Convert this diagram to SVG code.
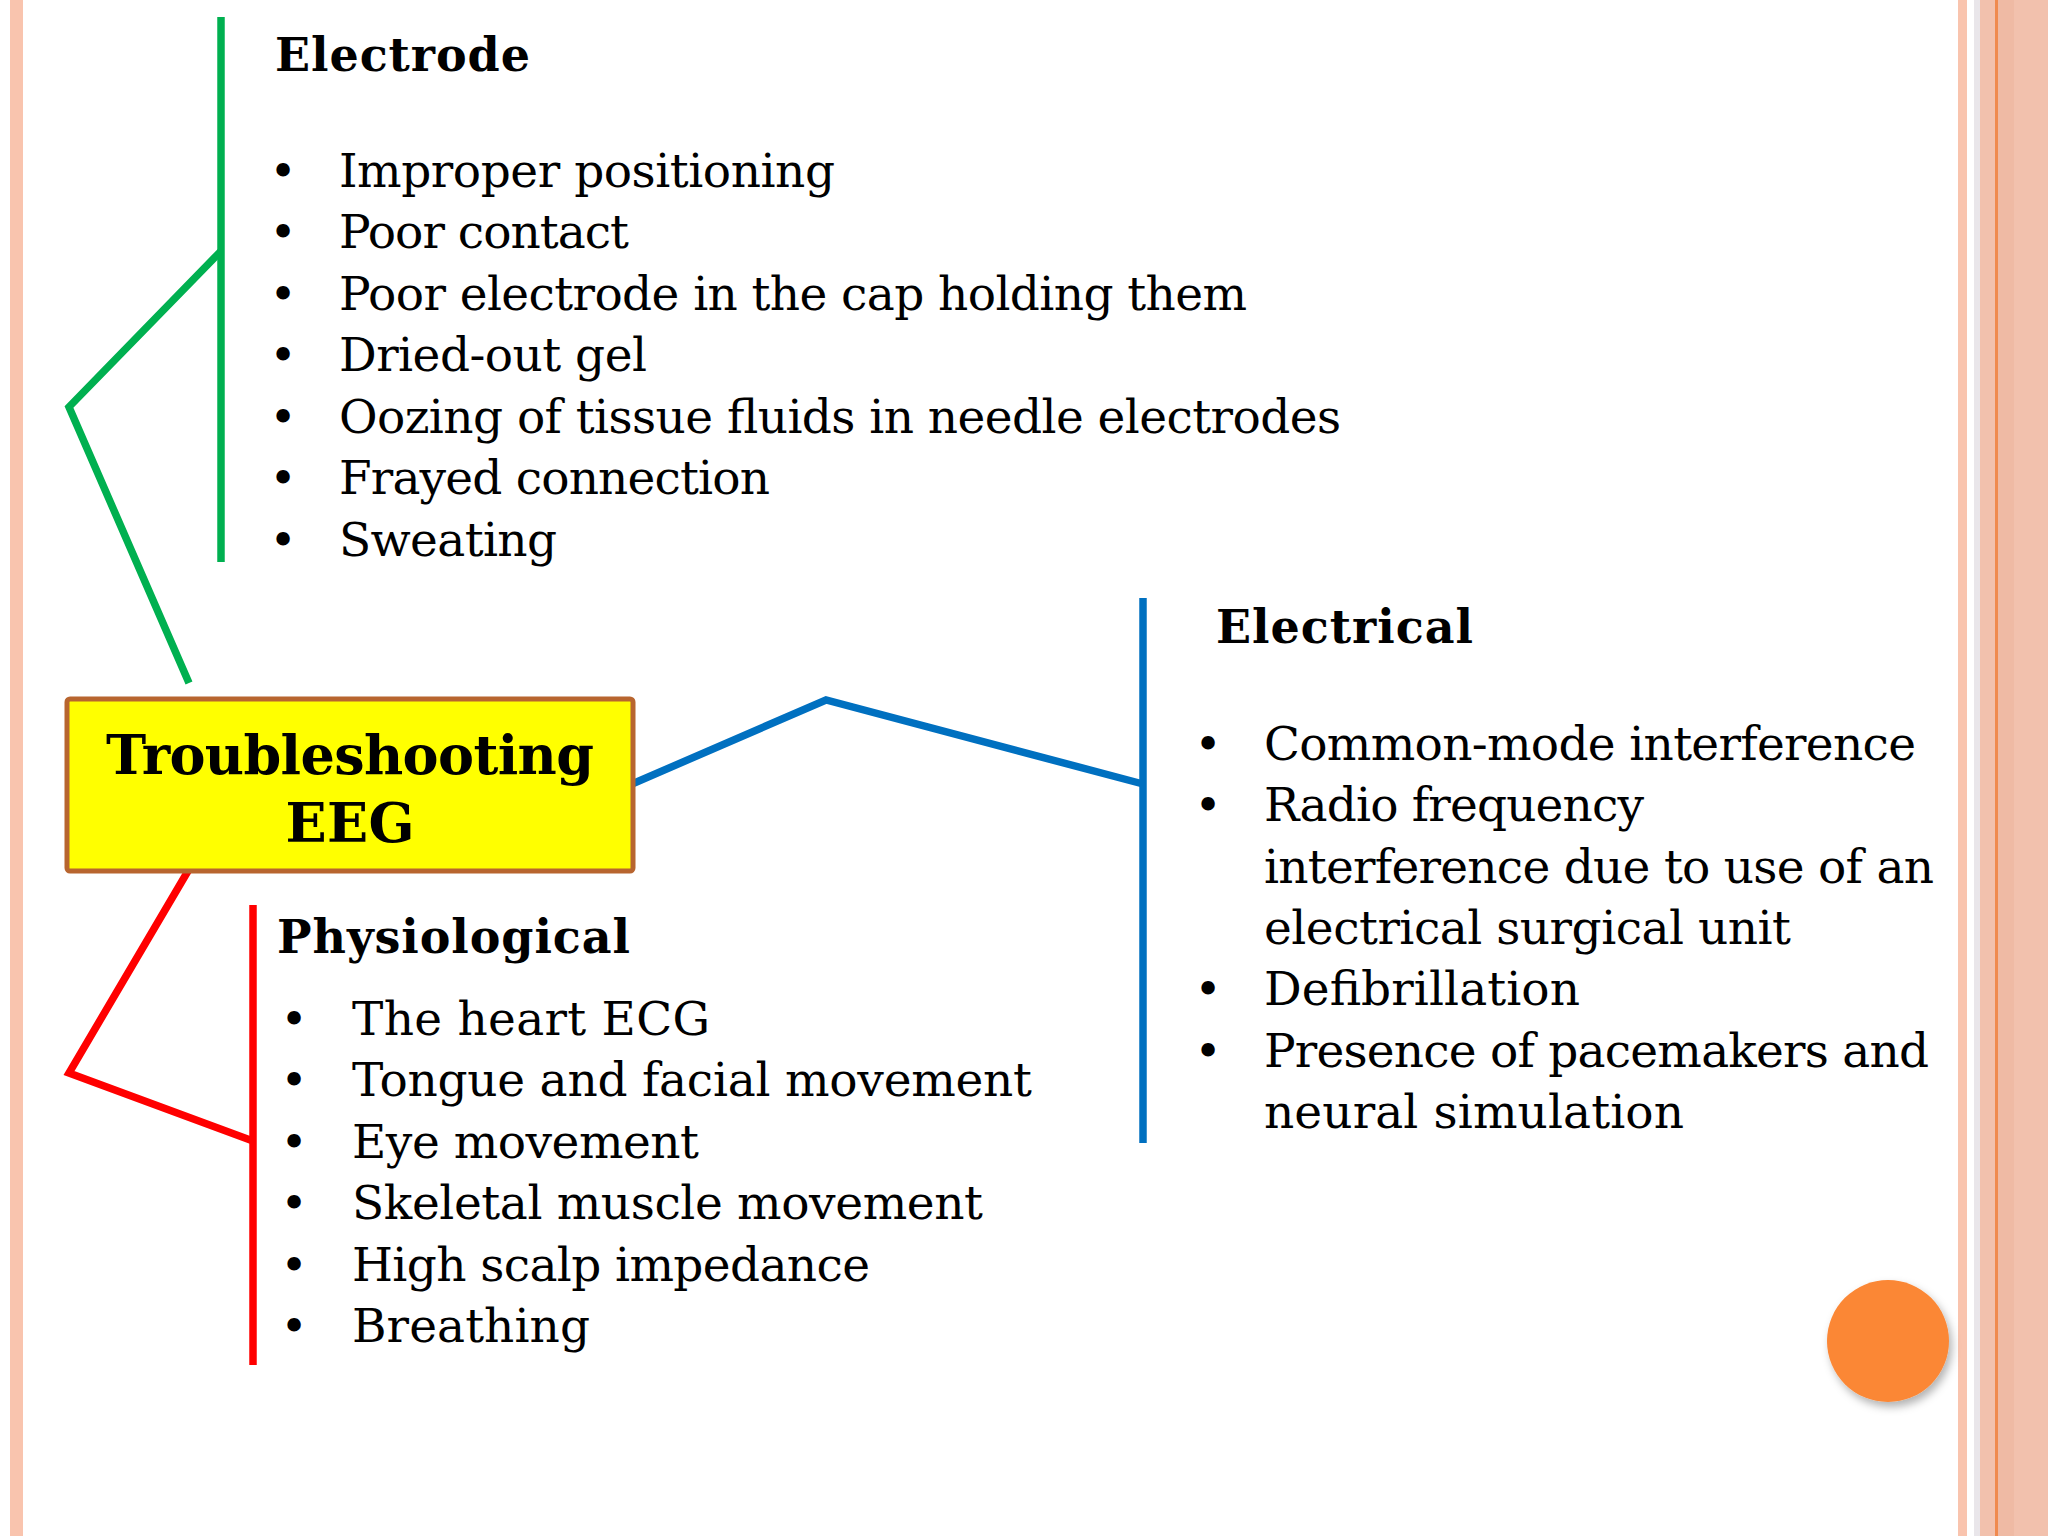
<svg xmlns="http://www.w3.org/2000/svg" width="2048" height="1536" viewBox="0 0 2048 1536">
<defs>
<style>
.hd{font-family:"DejaVu Serif","Liberation Serif",serif;font-weight:bold;font-size:46px;fill:#000}
.tx{font-family:"DejaVu Serif","Liberation Serif",serif;font-size:47px;fill:#000}
.bl{font-family:"DejaVu Serif","Liberation Serif",serif;font-size:46px;fill:#000;text-anchor:middle}
.ttl{font-family:"DejaVu Serif","Liberation Serif",serif;font-weight:bold;font-size:54px;fill:#000;text-anchor:middle}
.ln{fill:none;stroke-width:7.5;stroke-linejoin:miter}
</style>
<filter id="sh" x="-30%" y="-30%" width="160%" height="160%">
<feDropShadow dx="3" dy="5" stdDeviation="4" flood-color="#000" flood-opacity="0.3"/>
</filter>
</defs>
<rect x="0" y="0" width="2048" height="1536" fill="#fff"/>
<g id="frame">
<rect x="10" y="0" width="13" height="1536" fill="#F9C4AE"/>
<rect x="1958" y="0" width="9" height="1536" fill="#F9C4AE"/>
<rect x="1974" y="0" width="6" height="1536" fill="#E9E6EA"/>
<rect x="1980" y="0" width="68" height="1536" fill="#F2C1AD"/>
<rect x="1998" y="0" width="16" height="1536" fill="#EFBAA4"/>
<rect x="1995" y="0" width="3" height="1536" fill="#F08A4E"/>
</g>
<g id="connectors">
<polyline class="ln" stroke="#00B050" points="189,683 69,407 221,251"/>
<line class="ln" stroke="#00B050" x1="221" y1="17" x2="221" y2="562"/>
<polyline class="ln" stroke="#0070C0" points="632,784 826,700 1143,784"/>
<line class="ln" stroke="#0070C0" x1="1143" y1="598" x2="1143" y2="1143"/>
<polyline class="ln" stroke="#FF0000" points="188,871 69,1073 253,1141"/>
<line class="ln" stroke="#FF0000" x1="253" y1="905" x2="253" y2="1365"/>
</g>
<g id="root">
<rect x="67" y="699" width="566" height="172" rx="3" fill="#FFFF00" stroke="#B8652F" stroke-width="5"/>
<text class="ttl" x="350" y="774" textLength="488">Troubleshooting</text>
<text class="ttl" x="350" y="842" textLength="129">EEG</text>
</g>
<g id="electrode">
<text class="hd" x="275" y="71" textLength="255">Electrode</text>
<text class="bl" x="283" y="187">•</text><text class="tx" x="339" y="187" textLength="496">Improper positioning</text>
<text class="bl" x="283" y="248">•</text><text class="tx" x="339" y="248" textLength="290">Poor contact</text>
<text class="bl" x="283" y="310">•</text><text class="tx" x="339" y="310" textLength="908">Poor electrode in the cap holding them</text>
<text class="bl" x="283" y="371">•</text><text class="tx" x="339" y="371" textLength="308">Dried-out gel</text>
<text class="bl" x="283" y="433">•</text><text class="tx" x="339" y="433" textLength="1002">Oozing of tissue fluids in needle electrodes</text>
<text class="bl" x="283" y="494">•</text><text class="tx" x="339" y="494" textLength="431">Frayed connection</text>
<text class="bl" x="283" y="556">•</text><text class="tx" x="339" y="556" textLength="218">Sweating</text>
</g>
<g id="electrical">
<text class="hd" x="1216" y="643" textLength="257">Electrical</text>
<text class="bl" x="1208" y="760">•</text><text class="tx" x="1264" y="760" textLength="652">Common-mode interference</text>
<text class="bl" x="1208" y="821">•</text><text class="tx" x="1264" y="821" textLength="380">Radio frequency</text>
<text class="tx" x="1264" y="883" textLength="670">interference due to use of an</text>
<text class="tx" x="1264" y="944" textLength="527">electrical surgical unit</text>
<text class="bl" x="1208" y="1005">•</text><text class="tx" x="1264" y="1005" textLength="316">Defibrillation</text>
<text class="bl" x="1208" y="1067">•</text><text class="tx" x="1264" y="1067" textLength="665">Presence of pacemakers and</text>
<text class="tx" x="1264" y="1128" textLength="420">neural simulation</text>
</g>
<g id="physiological">
<text class="hd" x="277" y="953" textLength="353">Physiological</text>
<text class="bl" x="294" y="1035">•</text><text class="tx" x="352" y="1035" textLength="358">The heart ECG</text>
<text class="bl" x="294" y="1096">•</text><text class="tx" x="352" y="1096" textLength="680">Tongue and facial movement</text>
<text class="bl" x="294" y="1158">•</text><text class="tx" x="352" y="1158" textLength="347">Eye movement</text>
<text class="bl" x="294" y="1219">•</text><text class="tx" x="352" y="1219" textLength="631">Skeletal muscle movement</text>
<text class="bl" x="294" y="1281">•</text><text class="tx" x="352" y="1281" textLength="518">High scalp impedance</text>
<text class="bl" x="294" y="1342">•</text><text class="tx" x="352" y="1342" textLength="238">Breathing</text>
</g>
<g id="decoration">
<circle cx="1888" cy="1341" r="61" fill="#FB8735" filter="url(#sh)"/>
</g>
</svg>
